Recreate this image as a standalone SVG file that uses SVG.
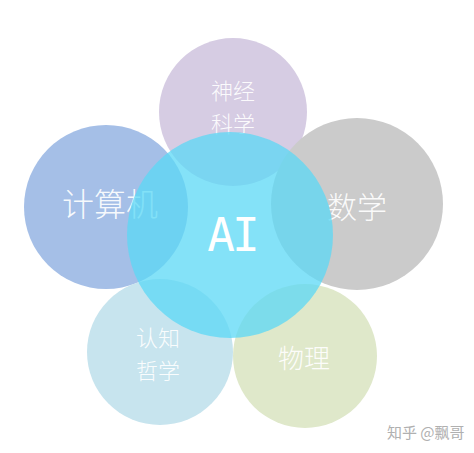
<svg xmlns="http://www.w3.org/2000/svg" width="474" height="453" viewBox="0 0 474 453">
<style>
.lbl{font-family:"Noto Sans CJK SC","Noto Sans",sans-serif;font-weight:300;fill:#ffffff;fill-opacity:0.92;text-anchor:middle}
.ai{font-family:"DejaVu Sans Mono","Liberation Sans",sans-serif;fill:#ffffff;text-anchor:middle;letter-spacing:-3px}
.wm{font-family:"Noto Sans CJK SC","Noto Sans",sans-serif;fill:#b0b0b0;font-size:15px}
</style>
<rect width="474" height="453" fill="#ffffff"/>
<g id="neuro">
<circle cx="233" cy="112" r="74" fill="#d6cce3"/>
<text class="lbl" x="233" y="99" font-size="22">神经</text>
<text class="lbl" x="233" y="131.5" font-size="22">科学</text>
</g>
<g id="computer">
<circle cx="106" cy="207" r="82" fill="#a5bfe7"/>
<text class="lbl" x="110" y="216" font-size="32">计算机</text>
</g>
<g id="math">
<circle cx="357" cy="204" r="86" fill="#cbcbcb"/>
<text class="lbl" x="357" y="218" font-size="30">数学</text>
</g>
<g id="philosophy">
<circle cx="160" cy="352" r="73" fill="#c7e4ee"/>
<text class="lbl" x="158" y="346" font-size="22">认知</text>
<text class="lbl" x="158" y="378.5" font-size="22">哲学</text>
</g>
<g id="physics">
<circle cx="305" cy="356" r="72" fill="#dfe8ca"/>
<text class="lbl" x="304" y="368" font-size="26">物理</text>
</g>
<g id="ai">
<circle cx="230" cy="235" r="103" fill="#5bd8f6" fill-opacity="0.75"/>
<text class="ai" x="232" y="251" font-size="46">AI</text>
</g>
<g id="connectors"></g>
<text class="wm" x="387" y="438">知乎 @飘哥</text>
</svg>
